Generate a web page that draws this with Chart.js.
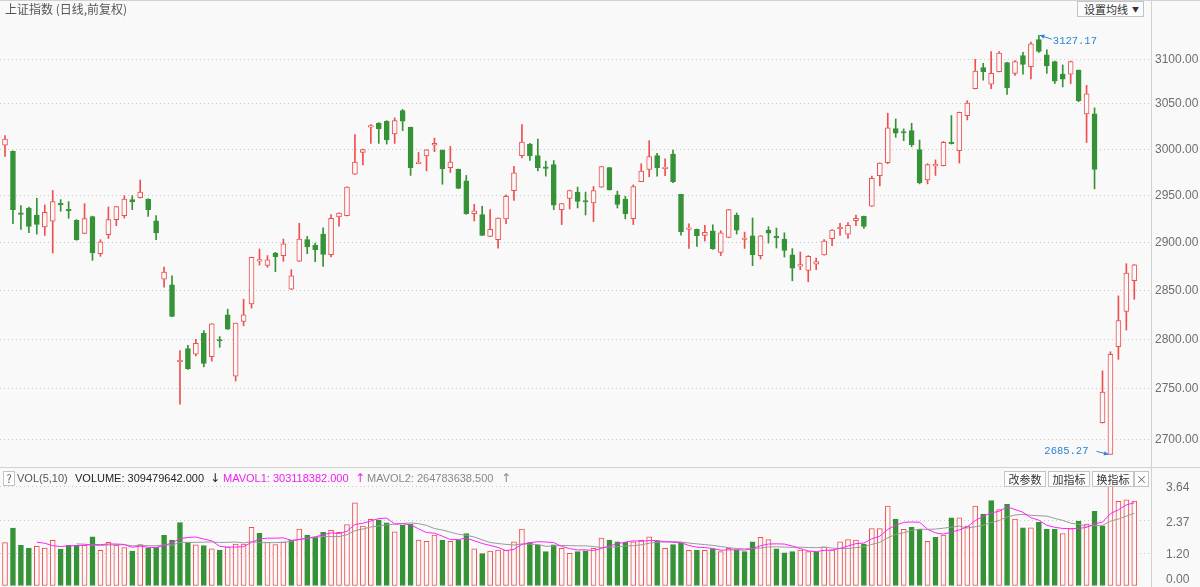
<!DOCTYPE html>
<html lang="zh-CN">
<head>
<meta charset="utf-8">
<title>上证指数 日线</title>
<script src="https://cdn.jsdelivr.net/npm/chart.js@4.4.0/dist/chart.umd.min.js"></script>
<style>
  html, body { margin: 0; padding: 0; }
  body {
    width: 1200px; height: 587px; position: relative; overflow: hidden;
    background: #f9f9f9;
    font-family: "Liberation Sans", Arial, "Noto Sans CJK SC", sans-serif;
  }
  canvas { position: absolute; left: 0; }
  #priceChart { top: 0; }
  #volChart { top: 468px; }
  .line-h { position: absolute; left: 0; width: 1200px; height: 1px; background: #d2d2d2; }
  .line-v { position: absolute; top: 0; left: 1151px; width: 1px; height: 587px; background: #d2d2d2; }
  .title { position: absolute; left: 5px; top: 0; font: 12px/17px "Noto Sans CJK SC", sans-serif; color: #555; }
  .btn {
    position: absolute; height: 14px; border: 1px solid #c4c4c4; background: #fdfdfd;
    font: 11px/14px "Noto Sans CJK SC", sans-serif; color: #333; text-align: center;
  }
  .vh { position: absolute; top: 471px; font: 11px/14px "Liberation Sans", Arial, sans-serif; white-space: nowrap; }
  .arrow { font: 12px/14px "DejaVu Sans", sans-serif; }
</style>
</head>
<body>
<canvas id="priceChart" width="1200" height="468"></canvas>
<canvas id="volChart" width="1200" height="119"></canvas>

<div class="line-h" style="top:0"></div>
<div class="line-h" style="top:467px"></div>
<div class="line-v"></div>

<div class="title">上证指数 (日线,前复权)</div>
<div class="btn" style="left:1077px; top:1px; width:65px; text-align:left">
  <span style="margin-left:6px">设置均线</span><span style="position:absolute; right:4px; top:0; font-size:7px">▼</span>
</div>

<div class="btn" style="left:3px; top:471px; width:10px; height:13px; line-height:13px; color:#555">?</div>
<div class="vh" style="left:17px; color:#555">VOL(5,10)</div>
<div class="vh" style="left:75px; color:#222">VOLUME: 309479642.000</div>
<div class="vh arrow" style="left:210px; color:#222">↓</div>
<div class="vh" style="left:223px; color:#f020f0">MAVOL1: 303118382.000</div>
<div class="vh arrow" style="left:355px; color:#f020f0">↑</div>
<div class="vh" style="left:367px; color:#888">MAVOL2: 264783638.500</div>
<div class="vh arrow" style="left:501px; color:#888">↑</div>

<div class="btn" style="left:1004px; top:471px; width:40px">改参数</div>
<div class="btn" style="left:1048px; top:471px; width:40px">加指标</div>
<div class="btn" style="left:1092px; top:471px; width:40px">换指标</div>
<div class="btn" style="left:1134px; top:471px; width:13px; color:#666">×</div>

<script>
// daily OHLC of the index (oldest first)
const opens = [
  3004.8, 2997.9, 2931.2, 2936.5, 2929.4, 2916.6, 2922.7, 2941.6, 2935.0, 2923.8,
  2909.8, 2927.7, 2888.5, 2908.5, 2924.5, 2928.7, 2945.8, 2947.9, 2946.4, 2923.1,
  2861.9, 2855.9, 2777.2, 2790.5, 2785.0, 2806.1, 2782.3, 2799.4, 2825.0, 2762.6,
  2818.2, 2836.3, 2880.6, 2876.2, 2889.2, 2886.5, 2851.4, 2880.5, 2903.2, 2897.3,
  2909.1, 2887.4, 2927.3, 2928.7, 2973.2, 2996.8, 3024.4, 3028.7, 3030.9, 3016.9,
  3042.6, 3024.3, 2984.6, 2993.0, 3004.8, 2999.3, 2980.3, 2978.5, 2965.9, 2930.8,
  2929.8, 2906.7, 2903.2, 2925.2, 2955.3, 2993.3, 3005.9, 2993.3, 2981.0, 2983.5,
  2935.1, 2947.2, 2953.9, 2944.8, 2942.2, 2959.2, 2980.3, 2951.0, 2946.4, 2925.5,
  2965.2, 2978.2, 2993.3, 2979.2, 2995.1, 2951.4, 2914.1, 2914.1, 2907.8, 2912.7,
  2889.9, 2905.6, 2929.4, 2903.4, 2907.4, 2886.5, 2913.4, 2906.9, 2903.9, 2887.4,
  2875.4, 2871.0, 2877.6, 2887.1, 2904.2, 2914.8, 2909.1, 2923.4, 2928.0, 2938.7,
  2971.5, 2985.6, 3022.8, 3018.7, 3020.6, 3000.0, 2966.9, 2982.1, 2982.4, 3007.6,
  2998.6, 3037.2, 3067.0, 3090.5, 3072.0, 3086.0, 3096.2, 3084.1, 3104.2, 3091.7,
  3122.3, 3104.9, 3097.3, 3083.3, 3083.3, 3087.9, 3039.1, 3039.0, 2716.3, 2685.27,
  2792.5, 2828.4, 2860.4
];
const highs = [
  3015.1, 2998.5, 2939.4, 2937.9, 2947.2, 2940.1, 2955.6, 2945.8, 2943.6, 2924.5,
  2941.5, 2928.2, 2903.2, 2937.9, 2938.6, 2950.0, 2950.0, 2966.9, 2946.6, 2928.7,
  2874.4, 2865.3, 2788.4, 2793.9, 2800.0, 2808.8, 2815.9, 2802.7, 2830.8, 2816.6,
  2841.0, 2884.9, 2893.4, 2886.5, 2889.9, 2903.9, 2871.7, 2920.6, 2906.7, 2899.6,
  2915.8, 2929.8, 2931.8, 2959.5, 3016.2, 3000.3, 3027.2, 3029.4, 3031.6, 3034.6,
  3044.1, 3024.5, 2996.8, 3000.0, 3012.5, 2999.5, 3003.3, 2978.8, 2971.8, 2940.8,
  2938.7, 2935.1, 2926.5, 2951.0, 2981.7, 3027.2, 3006.6, 3011.4, 2987.3, 2988.0,
  2941.8, 2956.0, 2959.2, 2953.9, 2959.9, 2981.7, 2980.5, 2954.9, 2949.3, 2961.6,
  2984.5, 3009.6, 2995.8, 2989.8, 2999.3, 2951.6, 2919.9, 2914.4, 2918.3, 2919.0,
  2912.7, 2935.4, 2931.5, 2911.2, 2926.2, 2907.6, 2917.0, 2915.5, 2910.5, 2893.8,
  2890.2, 2886.5, 2884.0, 2903.2, 2914.0, 2920.6, 2921.3, 2929.4, 2928.3, 2971.1,
  2985.5, 3039.8, 3033.5, 3022.5, 3028.7, 3010.3, 2984.5, 2988.7, 3008.8, 3037.2,
  3041.0, 3053.7, 3100.0, 3095.5, 3108.8, 3108.8, 3096.5, 3098.5, 3107.7, 3119.3,
  3127.17, 3110.7, 3098.0, 3093.6, 3098.0, 3088.0, 3070.8, 3045.7, 2768.0, 2787.3,
  2844.5, 2878.0, 2877.2
];
const lows = [
  2992.3, 2920.2, 2914.1, 2910.5, 2909.1, 2907.7, 2889.2, 2933.4, 2925.9, 2902.6,
  2909.5, 2881.5, 2885.7, 2904.5, 2918.0, 2926.2, 2935.1, 2947.5, 2928.0, 2903.2,
  2853.5, 2823.0, 2734.6, 2769.6, 2783.0, 2772.1, 2777.9, 2791.8, 2810.0, 2757.8,
  2813.7, 2831.9, 2876.6, 2874.2, 2869.6, 2880.5, 2851.0, 2880.2, 2888.5, 2880.2,
  2875.2, 2885.0, 2917.4, 2928.5, 2973.0, 2983.1, 3006.6, 3006.6, 3005.9, 3006.6,
  3020.6, 2971.8, 2984.5, 2976.8, 2997.5, 2962.3, 2975.0, 2957.5, 2930.1, 2923.1,
  2907.5, 2906.5, 2894.4, 2920.2, 2945.0, 2990.8, 2988.0, 2976.8, 2971.1, 2935.1,
  2919.2, 2935.8, 2936.9, 2929.4, 2922.4, 2959.0, 2956.0, 2936.9, 2925.2, 2919.2,
  2965.0, 2970.4, 2971.1, 2971.5, 2964.1, 2908.1, 2894.0, 2896.1, 2901.8, 2893.0,
  2886.5, 2905.4, 2909.1, 2894.0, 2875.9, 2883.0, 2899.6, 2894.4, 2885.0, 2860.1,
  2871.7, 2859.1, 2871.7, 2887.0, 2896.9, 2907.8, 2904.5, 2918.0, 2915.2, 2938.5,
  2960.5, 2984.5, 3013.3, 3009.6, 3002.9, 2962.7, 2962.7, 2971.8, 2982.0, 3005.9,
  2985.2, 3032.4, 3066.8, 3076.5, 3067.0, 3085.8, 3060.6, 3081.8, 3083.3, 3078.0,
  3107.7, 3084.1, 3072.7, 3069.0, 3072.7, 3052.6, 3007.7, 2957.4, 2716.0, 2685.27,
  2779.6, 2809.5, 2841.0
];
const closes = [
  3011.4, 2935.1, 2930.0, 2917.3, 2919.5, 2932.2, 2943.6, 2940.1, 2933.8, 2903.2,
  2925.5, 2889.2, 2901.0, 2924.5, 2938.3, 2946.4, 2943.3, 2953.9, 2935.1, 2910.3,
  2869.2, 2823.3, 2778.6, 2770.1, 2795.9, 2775.5, 2815.7, 2798.2, 2810.3, 2816.4,
  2825.0, 2884.6, 2881.4, 2882.0, 2885.4, 2898.9, 2865.3, 2903.9, 2895.5, 2892.8,
  2887.8, 2925.9, 2931.5, 2959.2, 2986.3, 3000.0, 3025.6, 3022.8, 3010.3, 3031.6,
  3031.0, 2980.3, 2985.9, 2999.6, 3006.6, 2979.2, 2986.3, 2957.8, 2930.8, 2933.7,
  2907.8, 2914.1, 2926.2, 2949.3, 2974.7, 3008.1, 2993.0, 2980.3, 2979.5, 2939.8,
  2941.5, 2955.6, 2944.0, 2943.3, 2955.6, 2981.4, 2956.3, 2940.8, 2930.8, 2959.9,
  2976.4, 2992.3, 2980.3, 2980.8, 2965.2, 2911.6, 2915.6, 2907.4, 2910.9, 2893.4,
  2910.5, 2935.1, 2913.4, 2904.9, 2887.4, 2907.4, 2910.2, 2905.4, 2892.0, 2873.4,
  2876.9, 2885.7, 2880.1, 2901.7, 2913.4, 2916.3, 2918.3, 2925.9, 2917.3, 2968.7,
  2985.2, 3023.6, 3017.7, 3018.0, 3005.2, 2964.1, 2983.5, 2983.0, 3007.7, 3006.4,
  3040.8, 3051.1, 3086.7, 3086.0, 3084.1, 3106.9, 3068.2, 3097.3, 3094.3, 3117.3,
  3108.8, 3092.4, 3075.4, 3077.6, 3097.3, 3053.8, 3061.3, 2978.2, 2746.7, 2784.6,
  2819.1, 2868.1, 2876.9
];
// volume in 亿 (1e8)
const volumes = [
  1.58, 2.11, 1.48, 1.37, 1.44, 1.38, 1.66, 1.34, 1.48, 1.48,
  1.48, 1.79, 1.30, 1.59, 1.48, 1.40, 1.27, 1.51, 1.38, 1.42,
  1.84, 1.67, 2.31, 1.59, 1.50, 1.47, 1.35, 1.31, 1.43, 1.53,
  1.53, 2.14, 1.92, 1.60, 1.51, 1.60, 1.67, 2.07, 1.84, 1.78,
  1.95, 2.03, 1.95, 2.24, 3.03, 2.18, 2.43, 2.41, 2.30, 1.97,
  2.21, 2.25, 1.67, 1.63, 1.85, 1.67, 1.63, 1.67, 1.91, 1.35,
  1.18, 1.27, 1.31, 1.31, 1.61, 2.07, 1.58, 1.50, 1.25, 1.50,
  1.37, 1.19, 1.25, 1.28, 1.37, 1.74, 1.67, 1.61, 1.59, 1.61,
  1.66, 1.79, 1.63, 1.37, 1.51, 1.57, 1.30, 1.31, 1.30, 1.35,
  1.25, 1.37, 1.32, 1.25, 1.61, 1.77, 1.69, 1.35, 1.21, 1.25,
  1.31, 1.25, 1.24, 1.43, 1.31, 1.61, 1.69, 1.67, 1.53, 2.09,
  2.09, 2.91, 2.44, 2.06, 2.14, 2.06, 1.63, 1.77, 1.85, 2.48,
  2.48, 2.18, 2.91, 2.62, 3.11, 2.78, 2.97, 2.44, 2.12, 2.12,
  2.32, 2.06, 2.06, 1.91, 2.09, 2.36, 2.25, 2.72, 2.19, 3.64,
  3.08, 3.14, 3.0948
];
const priceTicks = [2700, 2750, 2800, 2850, 2900, 2950, 3000, 3050, 3100];
const volTicks = [0, 1.20, 2.37, 3.64];
const days = opens.map((_, i) => i);

const RED = '#ee4f4f';
const GREEN = '#369236';
const BG = '#f9f9f9';
const BLUE = '#2a84d2';

const candleUp = days.map(i => closes[i] >= opens[i]);
const candleColor = days.map(i => candleUp[i] ? RED : GREEN);
// volume bars are coloured against the previous close
const volUp = days.map(i => i === 0 ? closes[0] >= opens[0] : closes[i] >= closes[i - 1]);

function movingAverage(values, n) {
  return values.map((_, i) => {
    if (i < n - 1) return null;
    let s = 0;
    for (let k = i - n + 1; k <= i; k++) s += values[k];
    return s / n;
  });
}
const ma5 = movingAverage(volumes, 5);
const ma10 = movingAverage(volumes, 10);

// x range so that each day sits on its slot, same for both panels
const X_MIN = -0.63;
const X_MAX = 144.1;

function drawArrow(ctx, x1, y1, x2, y2) {
  const a = Math.atan2(y2 - y1, x2 - x1);
  ctx.beginPath();
  ctx.moveTo(x1, y1);
  ctx.lineTo(x2, y2);
  ctx.stroke();
  ctx.beginPath();
  ctx.moveTo(x2, y2);
  ctx.lineTo(x2 - 5 * Math.cos(a - 0.45), y2 - 5 * Math.sin(a - 0.45));
  ctx.lineTo(x2 - 5 * Math.cos(a + 0.45), y2 - 5 * Math.sin(a + 0.45));
  ctx.closePath();
  ctx.fill();
}

const extremaLabels = {
  id: 'extremaLabels',
  afterDatasetsDraw(chart) {
    const { ctx, scales: { x, y } } = chart;
    let hi = 0, lo = 0;
    days.forEach(i => {
      if (highs[i] > highs[hi]) hi = i;
      if (lows[i] < lows[lo]) lo = i;
    });
    ctx.save();
    ctx.font = '10.5px "Liberation Mono", "DejaVu Sans Mono", monospace';
    ctx.fillStyle = BLUE;
    ctx.strokeStyle = BLUE;
    ctx.lineWidth = 1;
    ctx.textBaseline = 'middle';

    const hx = x.getPixelForValue(hi), hy = y.getPixelForValue(highs[hi]);
    drawArrow(ctx, hx + 13, hy + 4, hx + 1, hy);
    ctx.textAlign = 'left';
    ctx.fillText(highs[hi].toFixed(2), hx + 14, hy + 6);

    const lx = x.getPixelForValue(lo), ly = y.getPixelForValue(lows[lo]);
    drawArrow(ctx, lx - 14, ly - 3, lx - 2, ly);
    ctx.textAlign = 'right';
    ctx.fillText(lows[lo].toFixed(2), lx - 22, ly - 3);
    ctx.restore();
  }
};

const volAxisLabels = {
  id: 'volAxisLabels',
  afterDraw(chart) {
    const { ctx, chartArea, scales: { y } } = chart;
    ctx.save();
    ctx.font = '12px "Liberation Sans", Arial, sans-serif';
    ctx.fillStyle = '#6e6e6e';
    ctx.textAlign = 'left';
    ctx.textBaseline = 'middle';
    volTicks.forEach(v => {
      const py = Math.min(y.getPixelForValue(v) + 2, chart.height - 7);
      ctx.fillText(v.toFixed(2), chartArea.right + 15, py);
    });
    ctx.restore();
  }
};

new Chart(document.getElementById('priceChart'), {
  type: 'bar',
  data: {
    datasets: [
      {
        // wicks
        data: days.map(i => ({ x: i, y: [lows[i], highs[i]] })),
        backgroundColor: candleColor,
        borderWidth: 0,
        barThickness: 1,
        grouped: false,
        order: 2
      },
      {
        // bodies
        data: days.map(i => ({ x: i, y: [opens[i], closes[i]] })),
        backgroundColor: days.map(i => candleUp[i] ? BG : GREEN),
        borderColor: candleColor,
        borderWidth: 1,
        borderSkipped: false,
        barThickness: 5,
        minBarLength: 1.5,
        grouped: false,
        order: 1
      }
    ]
  },
  options: {
    responsive: false,
    animation: false,
    layout: { padding: 0 },
    plugins: { legend: { display: false }, tooltip: { enabled: false } },
    scales: {
      x: { type: 'linear', min: X_MIN, max: X_MAX, offset: false, display: false },
      y: {
        type: 'logarithmic',
        position: 'right',
        min: 2672,
        max: 3167.5,
        afterBuildTicks: s => { s.ticks = priceTicks.map(v => ({ value: v })); },
        afterFit: s => { s.width = 49; s.paddingTop = 0; s.paddingBottom = 0; },
        ticks: {
          autoSkip: false,
          padding: 4,
          color: '#6e6e6e',
          font: { family: '"Liberation Sans", Arial, sans-serif', size: 12 },
          callback: v => Number(v).toFixed(2)
        },
        grid: { color: '#c8c8c8', lineWidth: 1, drawTicks: false },
        border: { display: false, dash: [1, 3] }
      }
    }
  },
  plugins: [extremaLabels]
});

new Chart(document.getElementById('volChart'), {
  type: 'bar',
  data: {
    datasets: [
      {
        type: 'line',
        data: days.map(i => ({ x: i, y: ma5[i] })),
        borderColor: '#ff22ff',
        borderWidth: 1,
        pointRadius: 0,
        order: 0
      },
      {
        type: 'line',
        data: days.map(i => ({ x: i, y: ma10[i] })),
        borderColor: '#9a9a9a',
        borderWidth: 1,
        pointRadius: 0,
        order: 0
      },
      {
        data: days.map(i => ({ x: i, y: volumes[i] })),
        backgroundColor: days.map(i => volUp[i] ? BG : GREEN),
        borderColor: days.map(i => volUp[i] ? RED : GREEN),
        borderWidth: 1,
        borderSkipped: false,
        barThickness: 5,
        grouped: false,
        order: 1
      }
    ]
  },
  options: {
    responsive: false,
    animation: false,
    layout: { padding: { top: 18, bottom: 1 } },
    plugins: { legend: { display: false }, tooltip: { enabled: false } },
    scales: {
      x: { type: 'linear', min: X_MIN, max: X_MAX, offset: false, display: false },
      y: {
        type: 'linear',
        position: 'right',
        min: 0,
        max: 3.64,
        afterBuildTicks: s => { s.ticks = volTicks.map(v => ({ value: v })); },
        afterFit: s => { s.width = 49; },
        ticks: { display: false },
        grid: {
          color: c => (c.tick && c.tick.value === 0 ? 'rgba(0,0,0,0)' : '#c8c8c8'),
          lineWidth: 1,
          drawTicks: false
        },
        border: { display: false, dash: [1, 3] }
      }
    }
  },
  plugins: [volAxisLabels]
});
</script>
</body>
</html>
